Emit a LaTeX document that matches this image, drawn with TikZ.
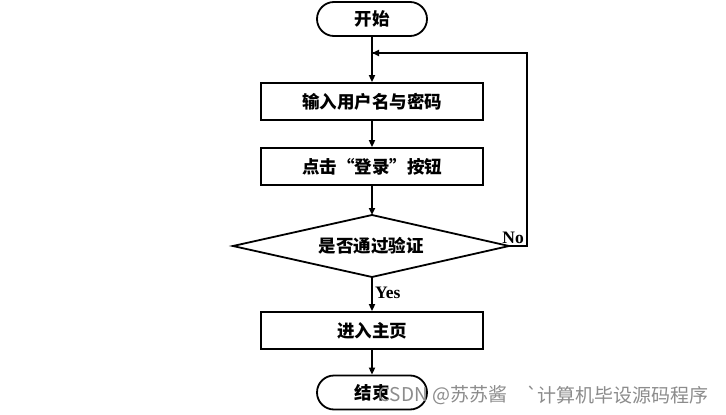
\documentclass[tikz,border=0pt]{standalone}
\usepackage{fontspec}
\newfontfamily\cjk{Noto Sans CJK SC}
\newfontfamily\yn{Liberation Serif}
\usetikzlibrary{arrows.meta}
\begin{document}
\begin{tikzpicture}[x=1pt,y=-1pt,
  every node/.style={font=\cjk\bfseries\fontsize{17.5}{19}\selectfont},
  term/.style={draw,line width=1.8pt,rounded corners=17pt,minimum width=110pt,minimum height=34pt,inner sep=0pt},
  proc/.style={draw,line width=1.8pt,minimum width=222pt,minimum height=37pt,inner sep=0pt},
  edge/.style={line width=1.8pt},
  conn/.style={line width=1.8pt,-{Triangle[length=7pt,width=6pt]}},
  lbl/.style={font=\yn\bfseries\fontsize{17.5}{19}\selectfont,inner sep=0pt},
  wm/.style={font=\cjk\fontsize{19}{21}\selectfont,text=black!45,inner sep=0pt}
]
\useasboundingbox[fill=white] (0,0) rectangle (726,415);
\node[term] (start) at (372,19) {开始};
\node[proc] (b1) at (372,101.5) {输入用户名与密码};
\node[proc] (b2) at (372,166.5) {点击“登录”按钮};
\node (d) at (371,246) {是否通过验证};
\coordinate (dn) at (372,215);
\coordinate (de) at (509,246);
\coordinate (ds) at (372,277);
\coordinate (dw) at (233,246);
\draw[edge,line join=miter] (dn) -- (de) -- (ds) -- (dw) -- cycle;
\node[proc] (b3) at (372,330.5) {进入主页};
\node[term] (end) at (372,392.5) {结束};
\coordinate (r1) at (527,246);
\coordinate (r2) at (527,53);
\coordinate (m) at (372,53);
\draw[conn] (start.south) -- (b1.north);
\draw[conn] (b1) -- (b2);
\draw[conn] (b2) -- (dn);
\draw[conn] (ds) -- (b3.north);
\node[lbl,anchor=west] (yes) at (375,293) {Yes};
\draw[conn] (b3) -- (end);
\draw[edge] (de) -- (r1) -- (r2) -- (m);
\draw[conn] (r2) -- (m);
\node[lbl,anchor=base east] (no) at (524,243) {No};
\node[wm,anchor=west] (w1) at (378,395) {CSDN @苏苏酱};
\node[wm,anchor=east] (w2) at (709,395) {`计算机毕设源码程序};
\end{tikzpicture}
\end{document}
